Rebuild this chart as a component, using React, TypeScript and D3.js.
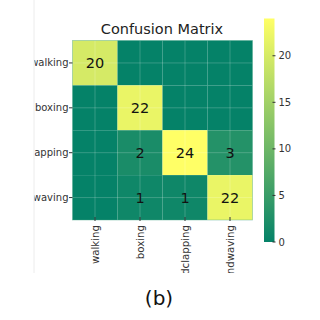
import React from "react";
import * as d3 from "d3";

const categories = ["walking", "boxing", "handclapping", "handwaving"];
const matrixRows = [
  [20, 0, 0, 0],
  [0, 22, 0, 0],
  [0, 2, 24, 3],
  [0, 1, 1, 22],
];
const colorbarTicks = [0, 5, 10, 15, 20];
const vMin = 0;
const vMax = 24;
const title = "Confusion Matrix";
const caption = "(b)";

const FONT = "'DejaVu Sans', sans-serif";

export default function App() {
  const left = 72.5, right = 252.5, top = 40.5, bottom = 220;
  const x = d3.scaleBand<string>().domain(categories).range([left, right]);
  const y = d3.scaleBand<string>().domain(categories).range([top, bottom]);
  const color = (v: number) =>
    d3.interpolateRgb("#058268", "#ffff66")((v - vMin) / (vMax - vMin));

  const cbX = 264, cbW = 10.5, cbTop = 18.5, cbBottom = 242;
  const cb = d3.scaleLinear().domain([vMin, vMax]).range([cbBottom, cbTop]);
  const stops = d3.range(0, 11).map((i) => i / 10);

  return (
    <svg
      width={320}
      height={320}
      style={{ position: "absolute", left: 0, top: 0, background: "#fff" }}
      fontFamily={FONT}
    >
      <defs>
        <clipPath id="fig">
          <rect x={34.5} y={0} width={285.5} height={273} />
        </clipPath>
        <linearGradient id="cbgrad" x1="0" y1="1" x2="0" y2="0">
          {stops.map((s) => (
            <stop key={s} offset={s} stopColor={color(vMin + s * (vMax - vMin))} />
          ))}
        </linearGradient>
      </defs>
      <rect x={0} y={0} width={320} height={320} fill="#fff" />
      <line x1={34} x2={34} y1={0} y2={273} stroke="#ececec" strokeWidth={1} />
      <g clipPath="url(#fig)">
        <text x={162} y={34} textAnchor="middle" fontSize={14.5} fill="#222">
          {title}
        </text>
        {matrixRows.map((row, i) =>
          row.map((v, j) => (
            <rect
              key={`c${i}-${j}`}
              x={x(categories[j])}
              y={y(categories[i])}
              width={x.bandwidth()}
              height={y.bandwidth()}
              fill={color(v)}
            />
          ))
        )}
        {categories.map((c) => (
          <g key={`g${c}`}>
            <line
              x1={x(c)! + x.bandwidth() / 2}
              x2={x(c)! + x.bandwidth() / 2}
              y1={top}
              y2={bottom}
              stroke="#fff"
              strokeOpacity={0.2}
              strokeWidth={1}
            />
            <line
              x1={left}
              x2={right}
              y1={y(c)! + y.bandwidth() / 2}
              y2={y(c)! + y.bandwidth() / 2}
              stroke="#fff"
              strokeOpacity={0.2}
              strokeWidth={1}
            />
          </g>
        ))}
        <rect
          x={left}
          y={top}
          width={right - left}
          height={bottom - top}
          fill="none"
          stroke="#4aa88a"
          strokeOpacity={0.5}
          strokeWidth={0.8}
        />
        {matrixRows.map((row, i) =>
          row.map((v, j) =>
            v === 0 ? null : (
              <text
                key={`t${i}-${j}`}
                x={x(categories[j])! + x.bandwidth() / 2}
                y={y(categories[i])! + y.bandwidth() / 2}
                dy="0.36em"
                textAnchor="middle"
                fontSize={14.5}
                fill="#111"
              >
                {v}
              </text>
            )
          )
        )}
        {categories.map((c) => (
          <g key={`yl${c}`}>
            <line
              x1={69}
              x2={72.5}
              y1={y(c)! + y.bandwidth() / 2}
              y2={y(c)! + y.bandwidth() / 2}
              stroke="#333"
              strokeWidth={1}
            />
            <text
              x={68.5}
              y={y(c)! + y.bandwidth() / 2}
              dy="0.35em"
              textAnchor="end"
              fontSize={10}
              fill="#333"
            >
              {c}
            </text>
          </g>
        ))}
        {categories.map((c) => {
          const cx = x(c)! + x.bandwidth() / 2;
          return (
            <g key={`xl${c}`}>
              <line x1={cx} x2={cx} y1={217} y2={221} stroke="#333" strokeWidth={1} />
              <text
                transform={`translate(${cx},${225}) rotate(-90)`}
                dy="0.35em"
                textAnchor="end"
                fontSize={10.2}
                fill="#333"
              >
                {c}
              </text>
            </g>
          );
        })}
        <rect x={cbX} y={cbTop} width={cbW} height={cbBottom - cbTop} fill="url(#cbgrad)" />
        {colorbarTicks.map((t) => (
          <g key={`cb${t}`}>
            <line x1={cbX + cbW - 2} x2={cbX + cbW + 1} y1={cb(t)} y2={cb(t)} stroke="#333" strokeWidth={1} />
            <text x={cbX + cbW + 4} y={cb(t)} dy="0.35em" fontSize={10} fill="#333">
              {t}
            </text>
          </g>
        ))}
      </g>
      <text x={159} y={305} textAnchor="middle" fontSize={20} fill="#111">
        {caption}
      </text>
    </svg>
  );
}
